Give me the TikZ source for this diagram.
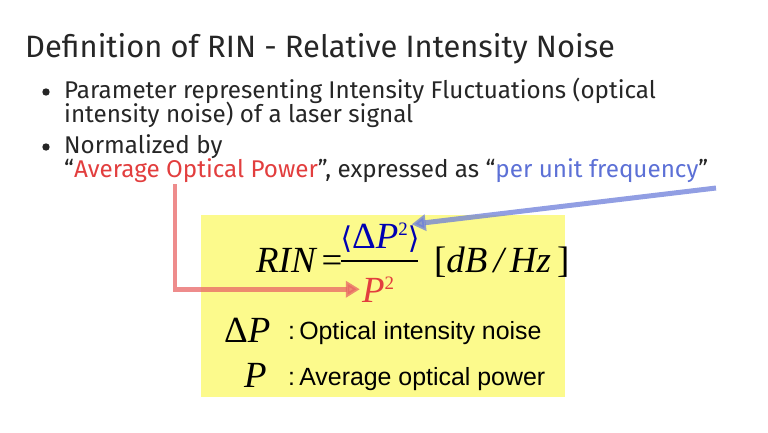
\documentclass[tikz,border=0pt]{standalone}
\usepackage{fontspec}
\setmainfont{Fira Sans}
\newfontfamily\tms{Liberation Serif}
\newfontfamily\ars{Liberation Sans}
\newfontfamily\djs{DejaVu Serif}
\usetikzlibrary{positioning, arrows.meta}
\definecolor{rinred}{RGB}{226,62,62}
\definecolor{rinblue}{RGB}{92,112,214}
\definecolor{boxyellow}{RGB}{252,250,140}
\tikzset{T/.style={anchor=base west, inner sep=0pt, font=\fontsize{24.3}{28}\selectfont, text=black!85}}
\tikzset{F/.style={anchor=base west, inner sep=0pt, font=\tms\itshape\fontsize{37}{40}\selectfont}}
\tikzset{L/.style={anchor=base west, inner sep=0pt, font=\ars\fontsize{25}{28}\selectfont}}
\tikzset{A/.style={line width=5pt, opacity=0.75, -{Triangle[length=14pt,width=16pt]}}}
\newcommand\sq{\raisebox{13pt}{\upshape\fontsize{19}{19}\selectfont 2}}
\begin{document}
\begin{tikzpicture}[x=1bp, y=-1bp]
        \useasboundingbox (0,0) rectangle (768,432);
        %% Title and bullets
        \node[T, font=\fontsize{31}{34}\selectfont] (title) at (25,57) {Definition of RIN - Relative Intensity Noise};
        \fill[black!85] (46,92) circle (3.7) coordinate (b1);
        \node[T] (l1) at (64,98) {Parameter representing Intensity Fluctuations (optical};
        \node[T] (l2) at (64,122) {intensity noise) of a laser signal};
        \fill[black!85] (46,147) circle (3.7) coordinate (b2);
        \node[T] (l3) at (64,153) {Normalized by};
        \node[T] (l4) at (64,177) {``\textcolor{rinred}{Average Optical Power}'', expressed as ``\textcolor{rinblue}{per unit frequency}''};
        %% Yellow box
        \fill[boxyellow] (201,215) rectangle (565,397);
        \node[F] (rin) at (256,272) {RIN\,\upshape=};
        \node[F, anchor=base, text=blue!70!black] (num) at (380,248) {{\djs\upshape\fontsize{30}{30}\selectfont ⟨}\upshape Δ\itshape P\sq{\djs\upshape\fontsize{30}{30}\selectfont ⟩}};
        \draw[line width=1.2pt] (341,261) -- (418,261);
        \node[F, anchor=base, text=rinred] (den) at (378,302) {P\sq};
        \node[F] (unit) at (434,272) {\upshape[\itshape dB\,/\,Hz\,\upshape]};
        \node[F] (dp) at (224,342) {\upshape Δ\itshape P};
        \node[L] (dplab) at (288,339) {:\,Optical intensity noise};
        \node[F] (p) at (244,387) {P};
        \node[L] (plab) at (288,385) {:\,Average optical power};
        %% Arrows
        \coordinate (rs) at (175,184);
        \coordinate (bs) at (716,188);
        \draw[A, color=rinred!80!white] (rs) |- ([xshift=-2pt]den.west);
        \draw[A, color=rinblue!90!white] (bs) -- ([xshift=-8pt,yshift=-2pt]num.north east);
\end{tikzpicture}
\end{document}
